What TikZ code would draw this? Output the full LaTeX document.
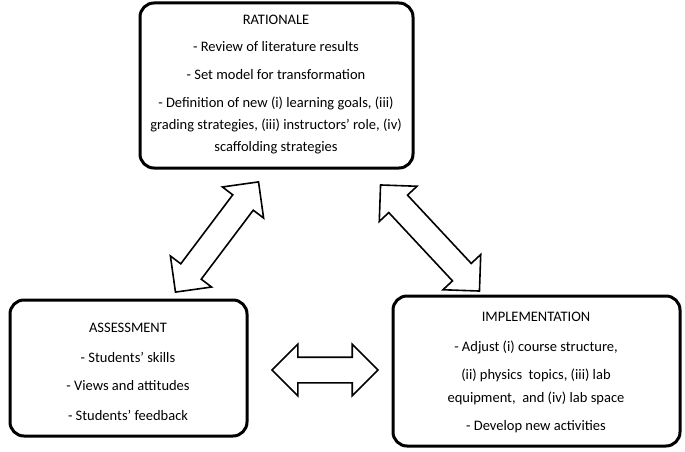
\documentclass[tikz,border=0pt]{standalone}
\usepackage{fontspec}
\setmainfont{Carlito}
\usetikzlibrary{shapes.arrows}
\begin{document}
\begin{tikzpicture}[x=1pt,y=-1pt,
  box/.style={draw,line width=3pt,rounded corners=14pt},
  dbl/.style={draw,line width=1.6pt,double arrow,double arrow head extend=13pt,inner xsep=0pt,inner ysep=12pt,minimum width=0pt},
  txt/.style={font=\fontsize{14.5}{22}\selectfont,align=center}]
\useasboundingbox (0,0) rectangle (685,452);
\draw[box] (140,3) rectangle (413,168);
\node[txt] (r1) at (276,20) {RATIONALE};
\node[txt] (r2) at (276,47) {- Review of literature results};
\node[txt] (r3) at (276,75) {- Set model for transformation};
\node[txt] (r4) at (276,125) {- Definition of new (i) learning goals, (iii)\\ grading strategies, (iii) instructors’ role, (iv)\\ scaffolding strategies};
\draw[box] (10,300) rectangle (247,436);
\node[txt] (a1) at (128,328) {ASSESSMENT};
\node[txt] (a2) at (128,357) {- Students’ skills};
\node[txt] (a3) at (128,386) {- Views and attitudes};
\node[txt] (a4) at (128,415) {- Students’ feedback};
\draw[box] (393,296) rectangle (680,446);
\node[txt] (i1) at (536,317) {IMPLEMENTATION};
\node[txt] (i2) at (536,347) {- Adjust (i) course structure,};
\node[txt] (i3) at (536,375) {(ii) physics\ \ topics, (iii) lab};
\node[txt] (i4) at (536,398) {equipment,\ \ and (iv) lab space};
\node[txt] (i5) at (536,427) {- Develop new activities};
\node[dbl,minimum height=138pt,rotate=53] (ar1) at (217,237) {};
\node[dbl,minimum height=145pt,rotate=133] (ar2) at (430,238) {};
\node[dbl,minimum height=106pt] (ar3) at (325,370) {};
\end{tikzpicture}
\end{document}
